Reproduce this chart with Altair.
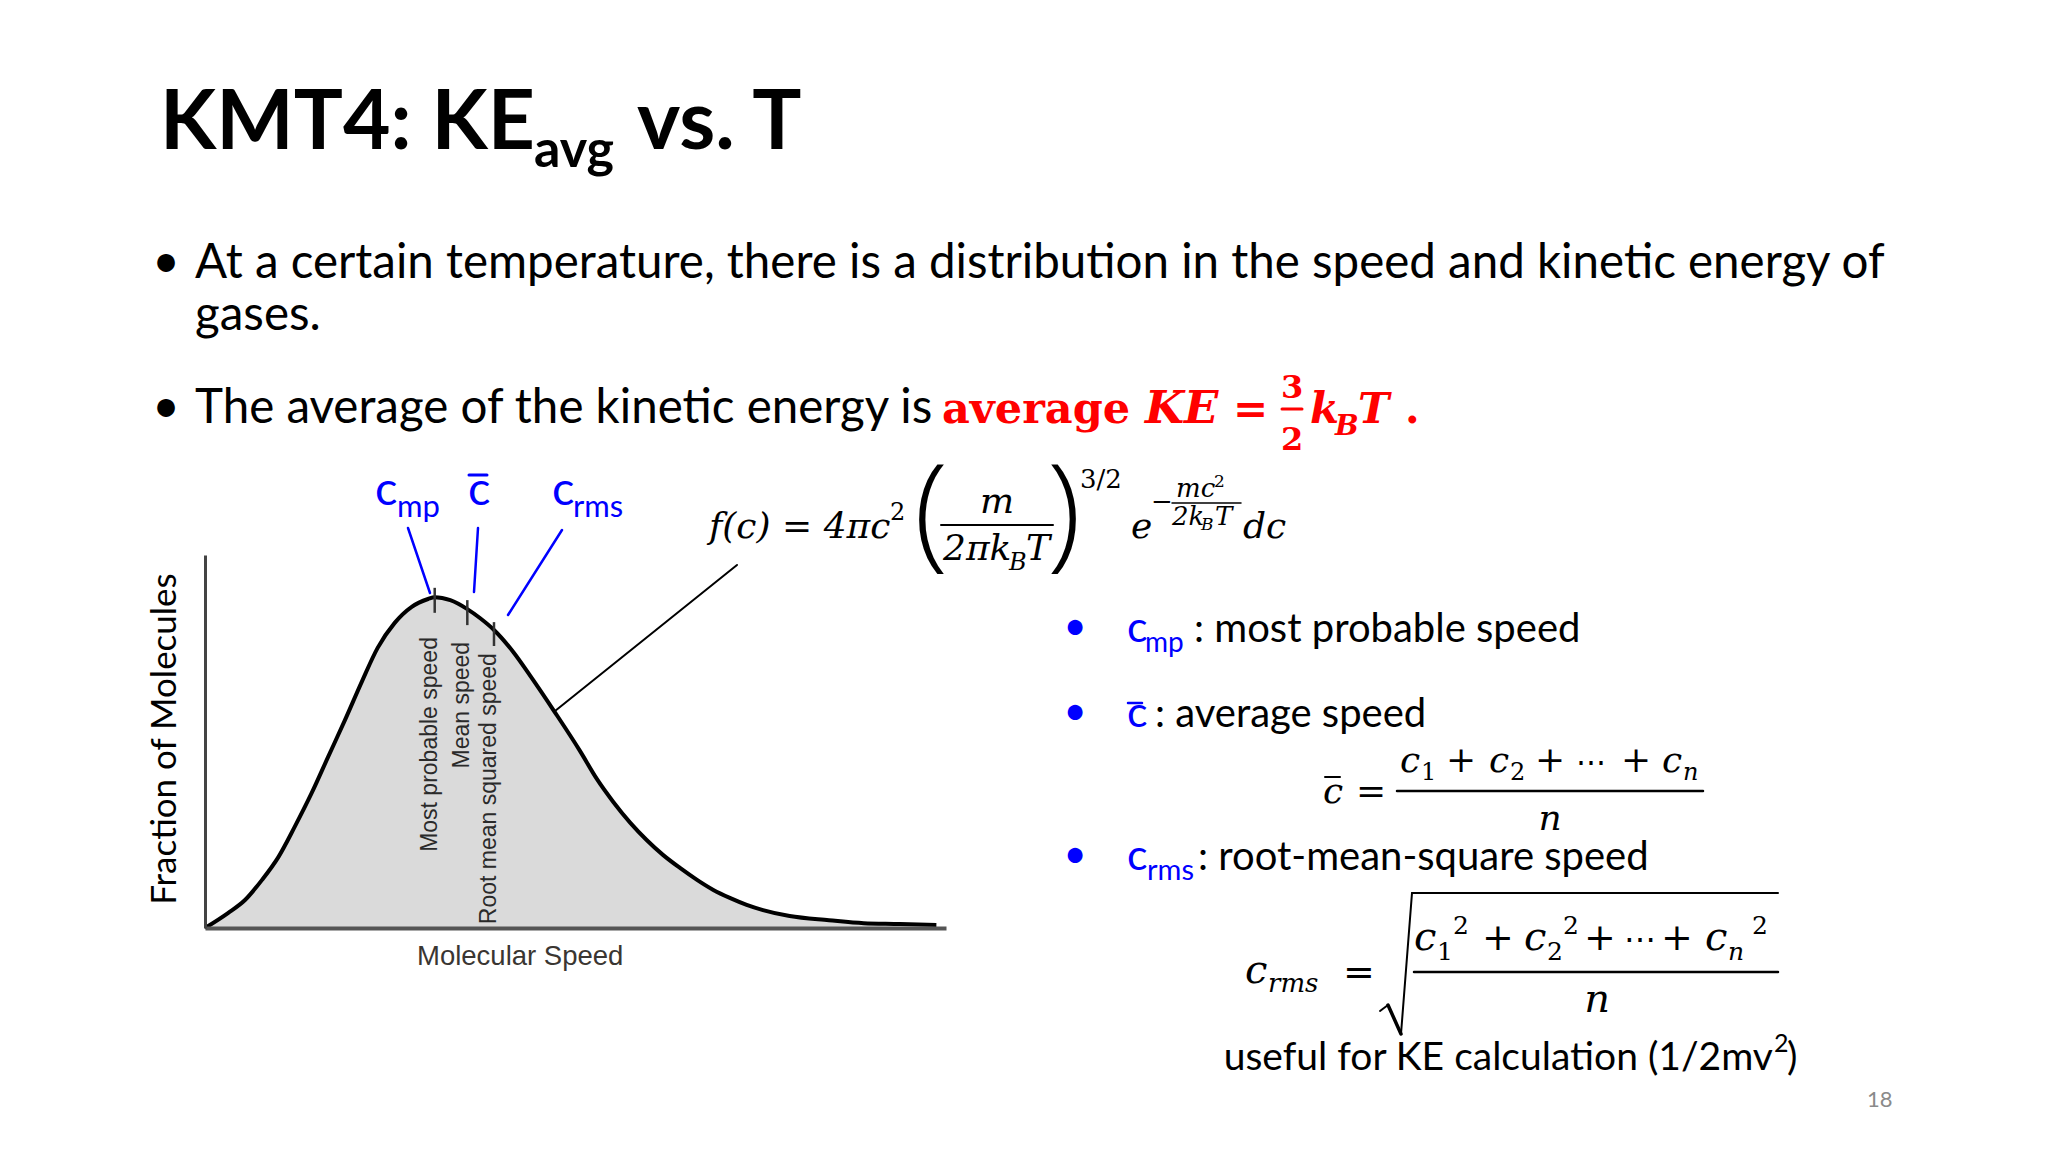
import altair as alt
import pandas as pd

# ---------------- data ----------------
speed = [0.0, 3.1, 5.4, 7.7, 9.9, 12.1, 14.4, 16.6, 18.9, 21.2, 23.3, 25.6, 27.9, 30.1,
         31.0, 33.1, 35.4, 37.1, 39.0, 41.6, 43.9, 47.2, 50.6, 52.9, 55.1, 57.4, 59.6,
         61.8, 64.1, 66.4, 68.6, 70.9, 73.1, 75.3, 78.9, 84.2, 88.9, 93.8, 98.7]
fraction = [0.0, 0.040, 0.075, 0.129, 0.190, 0.271, 0.362, 0.458, 0.558, 0.662, 0.751,
            0.818, 0.861, 0.882, 0.887, 0.879, 0.855, 0.831, 0.799, 0.740, 0.676, 0.579,
            0.475, 0.399, 0.338, 0.282, 0.236, 0.196, 0.161, 0.129, 0.102, 0.080, 0.062,
            0.048, 0.032, 0.021, 0.013, 0.011, 0.008]

marker_names = ["Most probable speed", "Mean speed", "Root mean squared speed"]
marker_speed = [31.0, 35.4, 39.0]
marker_lo = [0.845, 0.812, 0.756]
marker_hi = [0.912, 0.879, 0.820]
marker_label_top = [0.780, 0.767, 0.737]

curve = pd.DataFrame({"speed": speed, "fraction": fraction})
markers = pd.DataFrame({"name": marker_names, "speed": marker_speed, "lo": marker_lo,
                        "hi": marker_hi, "top": marker_label_top})
one = pd.DataFrame({"k": [0]})

# plot-area origin on the page (pixels) and size
OX, OY = 205, 555
W, H = 741, 373

BLUE = "#0000FF"
RED = "#FF0000"
MATH = "DejaVu Serif"
BODY = "Lato"
L1 = 47.5   # main bullet text size
L2 = 40     # right-hand list text size

layers = []


def T(s, x, y, size, color="black", font=BODY, weight="normal", style="normal",
      align="left", angle=0):
    layers.append(
        alt.Chart(one).mark_text(text=s, fontSize=size, font=font, fontWeight=weight,
                                 fontStyle=style, color=color, align=align,
                                 baseline="alphabetic", angle=angle)
        .encode(x=alt.value(x - OX), y=alt.value(y - OY))
    )


def R(x1, y1, x2, y2, color="black", w=2):
    layers.append(
        alt.Chart(one).mark_rule(color=color, strokeWidth=w, strokeCap="round")
        .encode(x=alt.value(x1 - OX), x2=alt.value(x2 - OX),
                y=alt.value(y1 - OY), y2=alt.value(y2 - OY))
    )


# ---------------- the distribution curve ----------------
xs = alt.Scale(domain=[0, 100], nice=False, zero=False)
ys = alt.Scale(domain=[0, 1], nice=False, zero=False)
area = alt.Chart(curve).mark_area(
    color="#cbcbcb", interpolate="monotone",
    line={"color": "black", "strokeWidth": 4}
).encode(
    x=alt.X("speed:Q", scale=xs,
            axis=alt.Axis(domain=True, domainColor="#555555", domainWidth=4, ticks=False,
                          labels=False, grid=False, title=None, zindex=1)),
    y=alt.Y("fraction:Q", scale=ys,
            axis=alt.Axis(domain=True, domainColor="#444444", domainWidth=3, ticks=False,
                          labels=False, grid=False, title=None, zindex=1)),
)
ticks = alt.Chart(markers).mark_rule(color="#333333", strokeWidth=2.5).encode(
    x="speed:Q", y="lo:Q", y2="hi:Q")
labels = alt.Chart(markers).mark_text(
    angle=270, align="right", baseline="alphabetic", font="Liberation Sans",
    fontSize=23, color="#2a2a2a", dy=2
).encode(x="speed:Q", y="top:Q", text="name:N")

layers += [area, ticks, labels]

# axis titles
T("Fraction of Molecules", 176, 739, 35, angle=270, align="center")
T("Molecular Speed", 417, 965, 27.5, color="#3a3632", font="Liberation Sans")

# blue annotations at the peak
T("c", 375, 505, 47, color=BLUE)
T("mp", 397, 517, 31, color=BLUE)
T("c", 468, 505, 47, color=BLUE)
R(469, 475, 487, 475, BLUE, 3)
T("c", 552, 505, 47, color=BLUE)
T("rms", 573, 517, 31, color=BLUE)
R(408, 528, 430, 593, BLUE, 2.5)
R(478, 528, 474, 592, BLUE, 2.5)
R(562, 530, 508, 615, BLUE, 2.5)

# pointer from formula to curve
R(737, 565, 555, 711, "black", 2)

# ---------------- title ----------------
T("KMT4: KE", 160, 149, 82, weight="bold")
T("avg", 534, 167, 52, weight="bold")
T("vs. T", 637, 149, 82, weight="bold")

# ---------------- bullets ----------------
T("•", 166, 277, L1, align="center")
T("At a certain temperature, there is a distribution in the speed and kinetic energy of",
  195, 278, L1)
T("gases.", 195, 330, L1)
T("•", 166, 422, L1, align="center")
T("The average of the kinetic energy is", 195, 423, L1)
T("average", 942, 423, 43, color=RED, font=MATH, weight="bold")
T("KE", 1145, 423, 45, color=RED, font=MATH, weight="bold", style="italic")
T("=", 1233, 423, 42, color=RED, font=MATH, weight="bold")
T("3", 1292, 398, 32, color=RED, font=MATH, weight="bold", align="center")
R(1282, 409, 1302, 409, RED, 3)
T("2", 1292, 450, 32, color=RED, font=MATH, weight="bold", align="center")
T("k", 1310, 423, 42, color=RED, font=MATH, weight="bold", style="italic")
T("B", 1335, 435, 28, color=RED, font=MATH, weight="bold", style="italic")
T("T", 1358, 423, 42, color=RED, font=MATH, weight="bold", style="italic")
T(".", 1405, 423, 42, color=RED, font=MATH, weight="bold")

# ---------------- Maxwell-Boltzmann formula ----------------
T("f(c) = 4πc", 709, 538, 36, font=MATH, style="italic")
T("2", 890, 520, 24, font=MATH)
T("(", 914, 554, 125, font="Open Sans", weight=300)
T(")", 1047, 554, 125, font="Open Sans", weight=300)
T("m", 997, 513, 36, font=MATH, style="italic", align="center")
R(941, 525, 1053, 525, "black", 2)
T("2πk", 943, 560, 36, font=MATH, style="italic")
T("B", 1009, 570, 24, font=MATH, style="italic")
T("T", 1026, 560, 36, font=MATH, style="italic")
T("3/2", 1080, 488, 26, font=MATH)
T("e", 1131, 538, 36, font=MATH, style="italic")
T("−", 1151, 510, 26, font=MATH)
T("mc", 1176, 497, 26, font=MATH, style="italic")
T("2", 1214, 487, 17, font=MATH)
R(1172, 503, 1241, 503, "black", 1.5)
T("2k", 1172, 525, 26, font=MATH, style="italic")
T("B", 1201, 530, 17, font=MATH, style="italic")
T("T", 1215, 525, 26, font=MATH, style="italic")
T("dc", 1243, 538, 36, font=MATH, style="italic")

# ---------------- right-hand list ----------------
T("•", 1075, 640, L2, color=BLUE, align="center")
T("c", 1127, 642, 43, color=BLUE)
T("mp", 1145, 652, 28, color=BLUE)
T(": most probable speed", 1194, 642, L2)

T("•", 1075, 725, L2, color=BLUE, align="center")
T("c", 1127, 727, 43, color=BLUE)
R(1128, 703, 1142, 703, BLUE, 2.5)
T(": average speed", 1155, 727, L2)

# c-bar formula
T("c", 1323, 803, 36, font=MATH, style="italic")
R(1325, 777, 1340, 777, "black", 2)
T("=", 1356, 803, 36, font=MATH)
R(1397, 791, 1703, 791, "black", 2.5)
T("c", 1400, 772, 36, font=MATH, style="italic")
T("1", 1421, 780, 24, font=MATH)
T("+", 1461, 772, 36, font=MATH, align="center")
T("c", 1489, 772, 36, font=MATH, style="italic")
T("2", 1510, 780, 24, font=MATH)
T("+", 1550, 772, 36, font=MATH, align="center")
T("⋯", 1591, 772, 30, font=MATH, align="center")
T("+", 1636, 772, 36, font=MATH, align="center")
T("c", 1662, 772, 36, font=MATH, style="italic")
T("n", 1683, 780, 24, font=MATH, style="italic")
T("n", 1550, 830, 36, font=MATH, style="italic", align="center")

T("•", 1075, 868, L2, color=BLUE, align="center")
T("c", 1127, 870, 43, color=BLUE)
T("rms", 1147, 880, 29, color=BLUE)
T(": root-mean-square speed", 1198, 870, L2)

# c_rms formula
T("c", 1245, 983, 40, font=MATH, style="italic")
T("rms", 1268, 992, 26, font=MATH, style="italic")
T("=", 1343, 985, 38, font=MATH)
R(1380, 1011, 1388, 1005, "black", 2)
R(1388, 1005, 1401, 1034, "black", 3.5)
R(1401, 1034, 1412, 893, "black", 2)
R(1412, 893, 1778, 893, "black", 2)
R(1414, 972, 1778, 972, "black", 2.5)
T("c", 1414, 950, 40, font=MATH, style="italic")
T("1", 1437, 960, 25, font=MATH)
T("2", 1453, 934, 25, font=MATH)
T("+", 1498, 950, 38, font=MATH, align="center")
T("c", 1524, 950, 40, font=MATH, style="italic")
T("2", 1547, 960, 25, font=MATH)
T("2", 1563, 934, 25, font=MATH)
T("+", 1600, 950, 38, font=MATH, align="center")
T("⋯", 1640, 950, 32, font=MATH, align="center")
T("+", 1677, 950, 38, font=MATH, align="center")
T("c", 1705, 950, 40, font=MATH, style="italic")
T("n", 1728, 960, 25, font=MATH, style="italic")
T("2", 1752, 934, 25, font=MATH)
T("n", 1597, 1012, 40, font=MATH, style="italic", align="center")

T("useful for KE calculation (1/2mv", 1773, 1070, 39, align="right")
T("2", 1774, 1052, 25)
T(")", 1787, 1070, 39)

T("18", 1867, 1107, 22, color="#8a8a8a")

chart = alt.layer(*layers).properties(
    width=W, height=H,
    autosize=alt.AutoSizeParams(type="none"),
    padding={"left": OX - 8, "top": OY - 8, "right": 2032 - (OX - 8) - W,
             "bottom": 1130 - (OY - 8) - H},
    background="white",
).configure_view(strokeWidth=0)

chart.save("out.html", embed_options={"renderer": "svg", "actions": False})
